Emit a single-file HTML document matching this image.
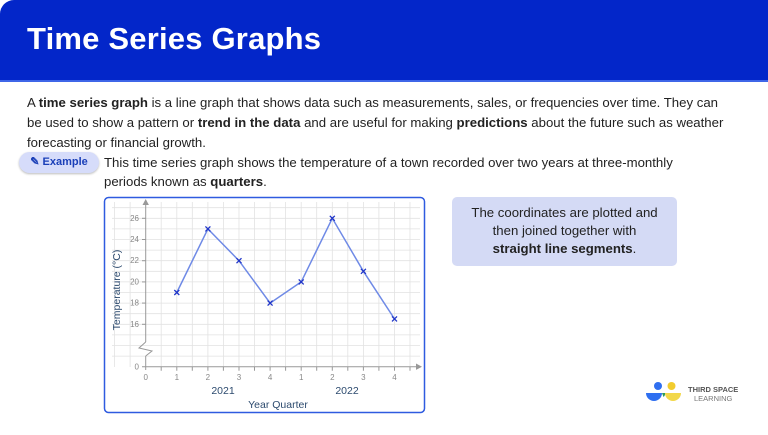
<!DOCTYPE html>
<html><head><meta charset="utf-8"><style>
html,body{margin:0;padding:0;background:#fff;width:768px;height:435px;overflow:hidden;font-family:"Liberation Sans",sans-serif;}
.hdr{position:absolute;left:0;top:0;width:768px;height:80px;background:#0326c9;border-top-left-radius:14px;border-bottom:2px solid #3f66e8;}
.hdr h1{margin:0;position:absolute;left:27px;top:21px;color:#fff;font-size:31px;font-weight:bold;letter-spacing:0.2px;}
.p{position:absolute;left:27px;top:93px;width:703px;font-size:13.2px;line-height:20px;color:#222;}
.ex{position:absolute;left:104px;top:153px;width:600px;font-size:13.2px;line-height:19px;color:#222;}
.badge{position:absolute;left:19px;top:152px;width:80px;height:21px;border-radius:11px;background:#d6dcfa;box-shadow:0 1px 2px #bbb;color:#1a3fb8;font-size:11px;font-weight:bold;line-height:21px;text-align:center;}
.box{position:absolute;left:452px;top:197px;width:225px;height:69px;background:#d4daf5;border-radius:5px;font-size:13.2px;line-height:18px;color:#222;text-align:center;padding-top:7px;box-sizing:border-box;}
</style></head><body>
<div class="hdr"><h1>Time Series Graphs</h1></div>
<div class="p">A <b>time series graph</b> is a line graph that shows data such as measurements, sales, or frequencies over time. They can be used to show a pattern or <b>trend in the data</b> and are useful for making <b>predictions</b> about the future such as weather forecasting or financial growth.</div>
<div class="badge">✎ Example</div>
<div class="ex">This time series graph shows the temperature of a town recorded over two years at three-monthly periods known as <b>quarters</b>.</div>
<div class="box">The coordinates are plotted and<br>then joined together with<br><b>straight line segments</b>.</div>
<svg width="768" height="435" style="position:absolute;left:0;top:0" xmlns="http://www.w3.org/2000/svg">
<rect x="104.5" y="197.5" width="320" height="215" rx="4" fill="#fff" stroke="#2f5be0" stroke-width="1.5"/>
<g stroke="#e2e2e2" stroke-width="0.8">
<line x1="114.6" y1="202" x2="114.6" y2="367"/><line x1="130.1" y1="202" x2="130.1" y2="367"/>
<line x1="161.2" y1="202" x2="161.2" y2="367"/><line x1="176.8" y1="202" x2="176.8" y2="367"/><line x1="192.3" y1="202" x2="192.3" y2="367"/><line x1="207.9" y1="202" x2="207.9" y2="367"/><line x1="223.4" y1="202" x2="223.4" y2="367"/><line x1="239" y1="202" x2="239" y2="367"/><line x1="254.5" y1="202" x2="254.5" y2="367"/><line x1="270.1" y1="202" x2="270.1" y2="367"/><line x1="285.6" y1="202" x2="285.6" y2="367"/><line x1="301.2" y1="202" x2="301.2" y2="367"/><line x1="316.7" y1="202" x2="316.7" y2="367"/><line x1="332.3" y1="202" x2="332.3" y2="367"/><line x1="347.8" y1="202" x2="347.8" y2="367"/><line x1="363.4" y1="202" x2="363.4" y2="367"/><line x1="378.9" y1="202" x2="378.9" y2="367"/><line x1="394.5" y1="202" x2="394.5" y2="367"/><line x1="410" y1="202" x2="410" y2="367"/>
<line x1="112" y1="207.7" x2="420" y2="207.7"/><line x1="112" y1="218.3" x2="420" y2="218.3"/><line x1="112" y1="228.9" x2="420" y2="228.9"/><line x1="112" y1="239.5" x2="420" y2="239.5"/><line x1="112" y1="250.1" x2="420" y2="250.1"/><line x1="112" y1="260.7" x2="420" y2="260.7"/><line x1="112" y1="271.3" x2="420" y2="271.3"/><line x1="112" y1="281.9" x2="420" y2="281.9"/><line x1="112" y1="292.5" x2="420" y2="292.5"/><line x1="112" y1="303.1" x2="420" y2="303.1"/><line x1="112" y1="313.7" x2="420" y2="313.7"/><line x1="112" y1="324.3" x2="420" y2="324.3"/><line x1="112" y1="334.9" x2="420" y2="334.9"/><line x1="112" y1="345.5" x2="420" y2="345.5"/><line x1="112" y1="356.1" x2="420" y2="356.1"/>
</g>
<g stroke="#999" stroke-width="1" fill="none">
<line x1="145.7" y1="203" x2="145.7" y2="342"/><polyline points="145.7,342 139,348 152,351 145.7,356"/><line x1="145.7" y1="356" x2="145.7" y2="370"/>
<line x1="142" y1="366.7" x2="418" y2="366.7"/>
<line x1="142" y1="218.3" x2="145.7" y2="218.3"/><line x1="142" y1="239.5" x2="145.7" y2="239.5"/><line x1="142" y1="260.7" x2="145.7" y2="260.7"/><line x1="142" y1="281.9" x2="145.7" y2="281.9"/><line x1="142" y1="303.1" x2="145.7" y2="303.1"/><line x1="142" y1="324.3" x2="145.7" y2="324.3"/>
<path d="M161.2 366.7v4M176.8 366.7v4M192.3 366.7v4M207.9 366.7v4M223.4 366.7v4M239 366.7v4M254.5 366.7v4M270.1 366.7v4M285.6 366.7v4M301.2 366.7v4M316.7 366.7v4M332.3 366.7v4M347.8 366.7v4M363.4 366.7v4M378.9 366.7v4M394.5 366.7v4M410 366.7v4"/>
</g>
<polygon points="145.7,199 142.5,205 148.9,205" fill="#999"/>
<polygon points="422,366.7 416,363.5 416,369.9" fill="#999"/>
<g font-size="8" fill="#888" text-anchor="end">
<text x="139" y="221">26</text><text x="139" y="242">24</text><text x="139" y="263">22</text><text x="139" y="284.5">20</text><text x="139" y="305.5">18</text><text x="139" y="327">16</text><text x="139" y="369.5">0</text>
</g>
<g font-size="8" fill="#888" text-anchor="middle">
<text x="145.7" y="380">0</text><text x="176.8" y="380">1</text><text x="207.9" y="380">2</text><text x="239" y="380">3</text><text x="270.1" y="380">4</text><text x="301.2" y="380">1</text><text x="332.3" y="380">2</text><text x="363.4" y="380">3</text><text x="394.5" y="380">4</text>
</g>
<g font-size="10.5" fill="#2c4a6e" text-anchor="middle">
<text x="223" y="394">2021</text><text x="347" y="394">2022</text><text x="278" y="408">Year Quarter</text>
<text transform="translate(120,290) rotate(-90)">Temperature (°C)</text>
</g>
<polyline fill="none" stroke="#6f8ae6" stroke-width="1.5" points="176.8,292.5 207.9,228.9 239,260.7 270.1,303.1 301.2,281.9 332.3,218.3 363.4,271.3 394.5,318.9"/>
<g stroke="#2035c8" stroke-width="1.3">
<path d="M174.3 290l5 5M179.3 290l-5 5M205.4 226.4l5 5M210.4 226.4l-5 5M236.5 258.2l5 5M241.5 258.2l-5 5M267.6 300.6l5 5M272.6 300.6l-5 5M298.7 279.4l5 5M303.7 279.4l-5 5M329.8 215.8l5 5M334.8 215.8l-5 5M360.9 268.8l5 5M365.9 268.8l-5 5M392 316.4l5 5M397 316.4l-5 5"/>
</g>
<circle cx="658" cy="386" r="4" fill="#2f6ff0"/><circle cx="671.5" cy="386" r="4" fill="#f2cc2e"/>
<path d="M646 393a8 8 0 0 0 16 0z" fill="#2f6ff0"/><path d="M665 393a8 8 0 0 0 16 0z" fill="#f2d84a"/>
<path d="M662 393h3a4 4 0 0 1-1.5 4z" fill="#2a9b5a"/>
<text x="688" y="392" font-size="7.5" font-weight="bold" fill="#555">THIRD SPACE</text>
<text x="694" y="401" font-size="7.5" fill="#777">LEARNING</text>
</svg>
</body></html>
